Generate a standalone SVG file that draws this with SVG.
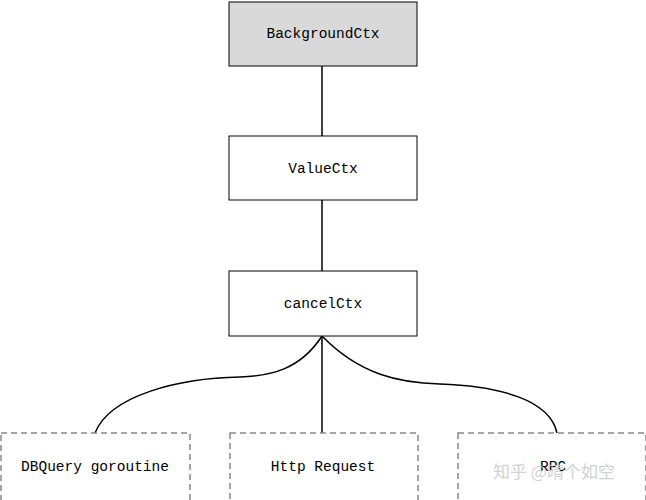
<svg xmlns="http://www.w3.org/2000/svg" width="646" height="500" viewBox="0 0 646 500">
<style>
.n{fill:#fff;stroke:#000;stroke-width:1}
.d{fill:#fff;stroke:#888;stroke-width:1.5;stroke-dasharray:6,4}
.t{font-family:"Liberation Mono",monospace;font-size:14.5px;text-anchor:middle;fill:#000}
.c{fill:none;stroke:#000;stroke-width:1.5}
</style>
<rect width="646" height="500" fill="#fff"/>
<g id="connectors">
<line class="c" x1="322" y1="66" x2="322" y2="136"/>
<line class="c" x1="322" y1="200" x2="322" y2="271"/>
<line class="c" x1="322" y1="336" x2="322" y2="433"/>
<path class="c" d="M322,336 C300,370 270,376 240,377 C180,378 110,395 95,433"/>
<path class="c" d="M322,336 C360,375 400,383 440,384 C500,386 550,400 557,433"/>
</g>
<g id="bg"><rect class="n" x="229" y="2" width="188" height="64" style="fill:#d9d9d9"/><text class="t" x="323" y="38">BackgroundCtx</text></g>
<g id="value"><rect class="n" x="229" y="136" width="188" height="64"/><text class="t" x="323" y="173">ValueCtx</text></g>
<g id="cancel"><rect class="n" x="229" y="271" width="188" height="65"/><text class="t" x="323" y="308">cancelCtx</text></g>
<g id="db"><rect class="d" x="1" y="433" width="189" height="70"/><text class="t" x="95" y="471">DBQuery goroutine</text></g>
<g id="http"><rect class="d" x="230" y="433" width="188" height="70"/><text class="t" x="323" y="471">Http Request</text></g>
<g id="rpc"><rect class="d" x="463" y="433" width="188" height="70" transform="translate(-5,0)"/><text class="t" x="553" y="471">RPC</text></g>
<text x="493" y="478" font-family="Noto Sans CJK SC,sans-serif" font-size="17" fill="#ccc" fill-opacity="0.9">知乎 @晴个如空</text>
</svg>
